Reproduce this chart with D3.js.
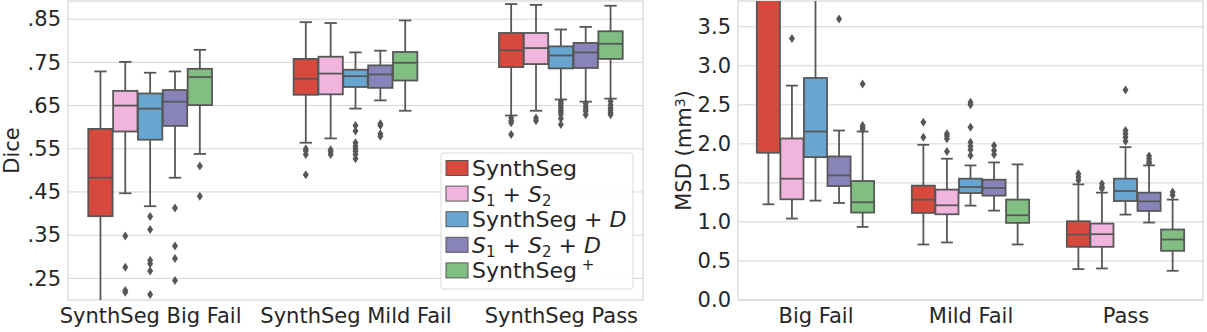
<!doctype html>
<html>
<head>
<meta charset="utf-8">
<script src="https://d3js.org/d3.v7.min.js"></script>
<style>
  body { margin: 0; background: #fff; }
  text { font-family: "DejaVu Sans", sans-serif; fill: #262626; }
</style>
</head>
<body>
<script>
    // models (hue) and colours
    var models = ["SynthSeg", "S1 + S2", "SynthSeg + D", "S1 + S2 + D", "SynthSeg+"];
    var colors = ["#d8493d", "#f0b4dd", "#69a6cf", "#8884b9", "#80bf81"];

    // Dice panel: box stats per model = [low whisker, q1, median, q3, high whisker]
    var diceGroups = ["SynthSeg Big Fail", "SynthSeg Mild Fail", "SynthSeg Pass"];
    var diceBigFail  = [[0.15, 0.394, 0.483, 0.596, 0.729], [0.447, 0.590, 0.650, 0.684, 0.751], [0.417, 0.571, 0.643, 0.678, 0.726], [0.483, 0.603, 0.659, 0.686, 0.729], [0.538, 0.651, 0.716, 0.735, 0.779]];
    var diceMildFail = [[0.564, 0.675, 0.712, 0.758, 0.843], [0.574, 0.676, 0.724, 0.763, 0.841], [0.643, 0.693, 0.718, 0.733, 0.773], [0.662, 0.691, 0.722, 0.743, 0.777], [0.638, 0.708, 0.749, 0.774, 0.847]];
    var dicePass     = [[0.627, 0.739, 0.778, 0.818, 0.885], [0.638, 0.746, 0.783, 0.818, 0.883], [0.664, 0.736, 0.766, 0.787, 0.826], [0.659, 0.737, 0.773, 0.795, 0.832], [0.666, 0.758, 0.793, 0.822, 0.881]];
    // outliers per model
    var diceBigFailOut  = [[], [0.348, 0.276, 0.222, 0.218], [0.393, 0.363, 0.292, 0.284, 0.267, 0.213], [0.413, 0.325, 0.296, 0.245], [0.510, 0.440]];
    var diceMildFailOut = [[0.550, 0.545, 0.537, 0.490], [0.548, 0.543, 0.537], [0.604, 0.591, 0.564, 0.556, 0.550, 0.544, 0.537, 0.527], [0.608, 0.604, 0.585, 0.579], []];
    var dicePassOut     = [[0.621, 0.615, 0.610, 0.583], [0.621, 0.615], [0.660, 0.655, 0.650, 0.645, 0.640, 0.635, 0.630, 0.620, 0.606], [0.655, 0.648, 0.642, 0.637, 0.629], [0.660, 0.652, 0.645, 0.640, 0.634, 0.629]];
    var diceTicks = [0.25, 0.35, 0.45, 0.55, 0.65, 0.75, 0.85];

    // MSD panel
    var msdGroups = ["Big Fail", "Mild Fail", "Pass"];
    var msdBigFail  = [[1.226, 1.886, 3.95, 5.0, 7.0], [1.043, 1.290, 1.554, 2.069, 2.746], [1.273, 1.830, 2.158, 2.844, 4.2], [1.243, 1.460, 1.596, 1.839, 2.171], [0.936, 1.120, 1.252, 1.524, 2.158]];
    var msdMildFail = [[0.711, 1.115, 1.286, 1.465, 1.988], [0.737, 1.098, 1.213, 1.414, 1.810], [1.209, 1.370, 1.447, 1.554, 1.724], [1.145, 1.337, 1.434, 1.541, 1.762], [0.711, 0.988, 1.086, 1.286, 1.737]];
    var msdPass     = [[0.396, 0.681, 0.839, 1.009, 1.481], [0.404, 0.681, 0.843, 0.979, 1.375], [1.094, 1.268, 1.396, 1.554, 1.958], [0.992, 1.141, 1.264, 1.375, 1.724], [0.374, 0.630, 0.775, 0.903, 1.286]];
    var msdBigFailOut  = [[], [3.35], [], [3.598], [2.767, 2.235, 2.205, 2.180]];
    var msdMildFailOut = [[2.277, 2.086], [2.129, 2.100, 2.065, 1.903], [2.533, 2.500, 2.213, 2.022, 1.971, 1.924, 1.852], [1.980, 1.915, 1.865], []];
    var msdPassOut     = [[1.618, 1.575, 1.533], [1.490, 1.447, 1.425], [2.690, 2.171, 2.129, 2.086, 2.035], [1.843, 1.810, 1.775, 1.750], [1.383, 1.341]];
    var msdTicks = [0, 0.5, 1, 1.5, 2, 2.5, 3, 3.5];

    var lineColor = "#575757";
    var gridColor = "#d6d6d6";
    var axisFont = "21px";

    var svg = d3.select("body").append("svg")
        .attr("width", 1207)
        .attr("height", 332);

    function drawPanel(opt) {
        var x = d3.scaleLinear().domain(opt.xDomain).range([opt.left, opt.right]);
        var y = d3.scaleLinear().domain(opt.yDomain).range([opt.bottom, opt.top]);
        var g = svg.append("g");

        // grid
        g.selectAll(".grid").data(opt.ticks).enter().append("line")
            .attr("x1", opt.left).attr("x2", opt.right)
            .attr("y1", function(d) { return y(d); })
            .attr("y2", function(d) { return y(d); })
            .attr("stroke", gridColor).attr("stroke-width", 1);

        // frame
        g.append("rect")
            .attr("x", opt.left).attr("y", opt.top)
            .attr("width", opt.right - opt.left).attr("height", opt.bottom - opt.top)
            .attr("fill", "none").attr("stroke", gridColor).attr("stroke-width", 1.2);

        // y axis labels
        var yAxis = g.append("g")
            .attr("transform", "translate(" + opt.left + ",0)")
            .call(d3.axisLeft(y).tickValues(opt.ticks).tickSize(0).tickPadding(7).tickFormat(opt.fmt));
        yAxis.select(".domain").remove();
        yAxis.selectAll("text").style("font-size", axisFont).style("font-family", "DejaVu Sans").attr("fill", "#262626");

        // x axis labels
        var xAxis = g.append("g")
            .attr("transform", "translate(0," + opt.bottom + ")")
            .call(d3.axisBottom(x).tickValues([0, 1, 2]).tickSize(0).tickPadding(8)
                .tickFormat(function(d) { return opt.groups[d]; }));
        xAxis.select(".domain").remove();
        xAxis.selectAll("text").style("font-size", axisFont).style("font-family", "DejaVu Sans").attr("fill", "#262626");

        // y title
        var title = g.append("text")
            .attr("transform", "translate(" + opt.titleX + "," + ((opt.top + opt.bottom) / 2) + ") rotate(-90)")
            .attr("text-anchor", "middle")
            .style("font-size", axisFont);
        title.selectAll("tspan").data(opt.title).enter().append("tspan")
            .attr("baseline-shift", function(d) { return d.sup ? "45%" : null; })
            .style("font-size", function(d) { return d.sup ? "14px" : null; })
            .text(function(d) { return d.t; });

        // boxes
        var clipId = "clip" + opt.left;
        svg.append("clipPath").attr("id", clipId).append("rect")
            .attr("x", opt.left).attr("y", opt.top)
            .attr("width", opt.right - opt.left).attr("height", opt.bottom - opt.top);
        var plot = g.append("g").attr("clip-path", "url(#" + clipId + ")");

        var n = models.length;
        var bw = (x(opt.groupWidth) - x(0)) / n;
        opt.stats.forEach(function(groupStats, gi) {
            groupStats.forEach(function(s, mi) {
                var cx = x(gi - opt.groupWidth / 2) + bw * (mi + 0.5);
                var b = plot.append("g");
                // whiskers
                b.append("line").attr("x1", cx).attr("x2", cx).attr("y1", y(s[0])).attr("y2", y(s[1]));
                b.append("line").attr("x1", cx).attr("x2", cx).attr("y1", y(s[3])).attr("y2", y(s[4]));
                b.append("line").attr("x1", cx - bw / 4).attr("x2", cx + bw / 4).attr("y1", y(s[0])).attr("y2", y(s[0]));
                b.append("line").attr("x1", cx - bw / 4).attr("x2", cx + bw / 4).attr("y1", y(s[4])).attr("y2", y(s[4]));
                b.append("rect")
                    .attr("x", cx - bw * 0.49).attr("width", bw * 0.98)
                    .attr("y", y(s[3])).attr("height", y(s[1]) - y(s[3]))
                    .attr("fill", colors[mi]);
                b.append("line").attr("x1", cx - bw * 0.49).attr("x2", cx + bw * 0.49).attr("y1", y(s[2])).attr("y2", y(s[2]));
                b.selectAll("line,rect").attr("stroke", lineColor).attr("stroke-width", 1.8);

                // fliers
                plot.selectAll(null).data(opt.fliers[gi][mi]).enter().append("path")
                    .attr("d", "M0,-4.5L3,0L0,4.5L-3,0Z")
                    .attr("transform", function(d) { return "translate(" + cx + "," + y(d) + ")"; })
                    .attr("fill", lineColor);
            });
        });
    }

    drawPanel({
        left: 68, right: 643, top: 1, bottom: 300,
        xDomain: [-0.4, 2.4], yDomain: [0.2, 0.892],
        groupWidth: 0.605,
        ticks: diceTicks,
        fmt: function(d) { return d3.format(".2f")(d).slice(1); },
        groups: diceGroups,
        stats: [diceBigFail, diceMildFail, dicePass],
        fliers: [diceBigFailOut, diceMildFailOut, dicePassOut],
        titleX: 19,
        title: [{t: "Dice"}]
    });

    drawPanel({
        left: 738, right: 1203, top: 1, bottom: 300,
        xDomain: [-0.5, 2.5], yDomain: [0, 3.83],
        groupWidth: 0.76,
        ticks: msdTicks,
        fmt: d3.format(".1f"),
        groups: msdGroups,
        stats: [msdBigFail, msdMildFail, msdPass],
        fliers: [msdBigFailOut, msdMildFailOut, msdPassOut],
        titleX: 691,
        title: [{t: "MSD (mm"}, {t: "3", sup: true}, {t: ")"}]
    });

    // legend
    var legendParts = [
        [{t: "SynthSeg"}],
        [{t: "S", i: true}, {t: "1", sub: true}, {t: " + "}, {t: "S", i: true}, {t: "2", sub: true}],
        [{t: "SynthSeg + "}, {t: "D", i: true}],
        [{t: "S", i: true}, {t: "1", sub: true}, {t: " + "}, {t: "S", i: true}, {t: "2", sub: true}, {t: " + "}, {t: "D", i: true}],
        [{t: "SynthSeg"}, {t: " +", sup: true}]
    ];
    var legend = svg.append("g").attr("transform", "translate(441,153)");
    legend.append("rect")
        .attr("width", 192).attr("height", 136).attr("rx", 3)
        .attr("fill", "#fff").attr("fill-opacity", 0.85)
        .attr("stroke", "#d9d9d9").attr("stroke-width", 1);
    var rows = legend.selectAll(".row").data(models).enter().append("g")
        .attr("transform", function(d, i) { return "translate(5," + (15 + i * 25.6) + ")"; });
    rows.append("rect")
        .attr("x", 0).attr("y", -7.5).attr("width", 22).attr("height", 15)
        .attr("fill", function(d, i) { return colors[i]; })
        .attr("stroke", lineColor).attr("stroke-width", 1);
    var lt = rows.append("text")
        .attr("x", 26).attr("y", 8)
        .style("font-size", "22px");
    lt.each(function(d, i) {
        d3.select(this).selectAll("tspan").data(legendParts[i]).enter().append("tspan")
            .style("font-style", function(p) { return p.i ? "oblique" : null; })
            .style("font-size", function(p) { return (p.sub || p.sup) ? "15px" : null; })
            .attr("baseline-shift", function(p) { return p.sub ? "-25%" : (p.sup ? "55%" : null); })
            .text(function(p) { return p.t; });
    });
</script>
</body>
</html>
